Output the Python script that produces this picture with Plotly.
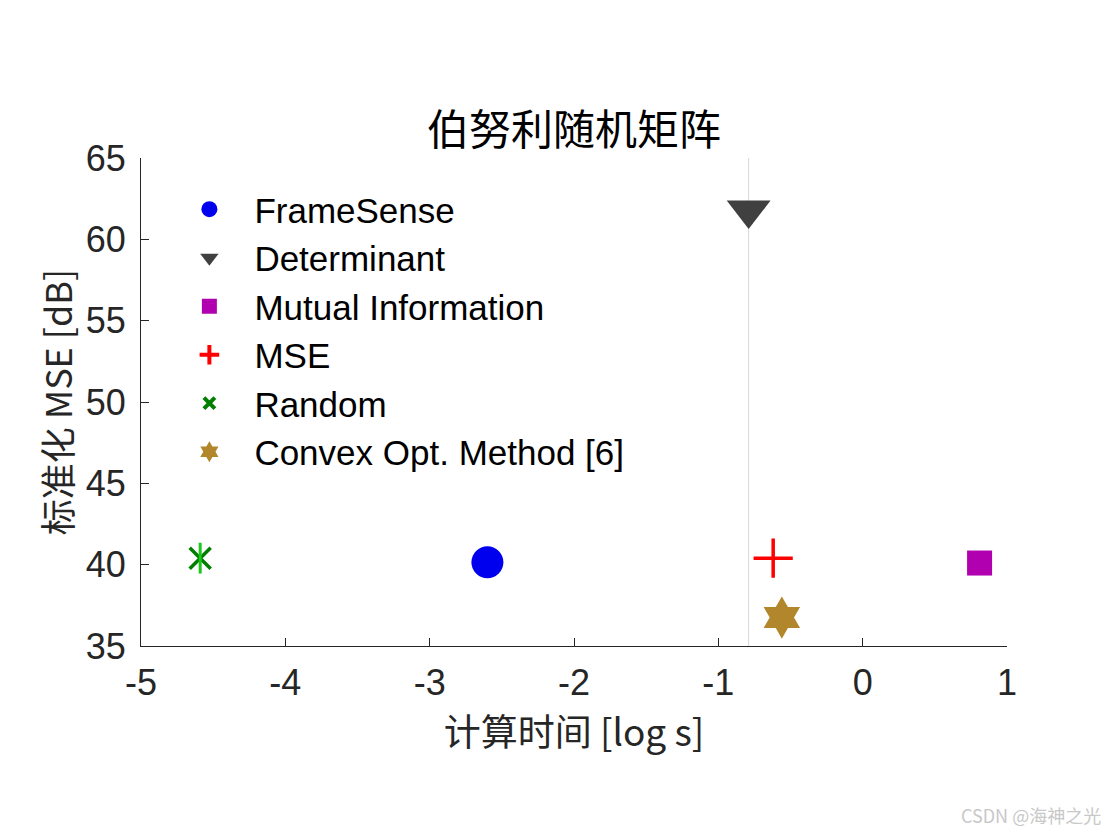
import plotly.graph_objects as go

# ---- data ----
methods = ["FrameSense", "Determinant", "Mutual Information", "MSE", "Random", "Convex Opt. Method [6]"]
x_time = [-2.60, -0.79, 0.81, -0.62, -4.59, -0.56]
y_mse = [40.15, 61.8, 40.1, 40.4, 40.4, 36.75]
symbols = ["circle", "triangle-down", "square", "cross-thin", "x-thin", "hexagram"]
colors = ["#0000ee", "#404040", "#b000b0", "#ff0000", "#007f00", "#b2862b"]
plot_sizes = [32, 38, 25, 28, 21, 32]
legend_sizes = [18, 24, 15, 14, 11, 20]
vline_x = -0.79
x_ticks = [-5, -4, -3, -2, -1, 0, 1]
x_tick_labels = ["-5", "-4", "-3", "-2", "-1", "0", "1"]
y_ticks = [35, 40, 45, 50, 55, 60, 65]
y_tick_labels = ["35", "40", "45", "50", "55", "60", "65"]

LAT = "Liberation Sans, Arial, Noto Sans CJK SC"
CJK = "Noto Sans CJK SC, Liberation Sans"
AX = "#262626"

fig = go.Figure()

# vertical reference line
fig.add_shape(type="line", x0=vline_x, x1=vline_x, y0=0, y1=1, xref="x", yref="paper",
              line=dict(color="#d9d9d9", width=1), layer="below")

for i, m in enumerate(methods):
    thin = symbols[i].endswith("thin")
    fig.add_trace(go.Scatter(
        x=[x_time[i]], y=[y_mse[i]], mode="markers", showlegend=False,
        marker=dict(symbol=symbols[i], size=plot_sizes[i], color=colors[i],
                    line=dict(color=colors[i], width=3.5 if thin else 0)),
        hoverinfo="skip"))
    fig.add_trace(go.Scatter(
        x=[None], y=[None], mode="markers", name=m,
        marker=dict(symbol=symbols[i], size=legend_sizes[i], color=colors[i],
                    line=dict(color=colors[i], width=4 if thin else 0))))

# light green vertical stroke overlapping the Random marker
ri = methods.index("Random")
fig.add_trace(go.Scatter(
    x=[x_time[ri]], y=[y_mse[ri]], mode="markers", showlegend=False,
    marker=dict(symbol="line-ns", size=22, line=dict(color="#19c819", width=3)),
    hoverinfo="skip"))

fig.update_layout(
    width=1109, height=834,
    paper_bgcolor="white", plot_bgcolor="white",
    margin=dict(l=141, r=102, t=158, b=188),
    font=dict(family=LAT, color=AX),
    title=dict(text="伯努利随机矩阵", x=0.5175, xanchor="center", y=1 - 130 / 834, yanchor="middle",
               yref="container", font=dict(family=CJK, size=42, color="black")),
    legend=dict(x=0.027, y=0.955, xanchor="left", yanchor="top",
                font=dict(family=LAT, size=35, color="black"),
                bgcolor="rgba(0,0,0,0)", itemwidth=80, tracegroupgap=0),
    showlegend=True,
)

fig.update_xaxes(range=[-5, 1], tickvals=x_ticks, ticktext=x_tick_labels,
                 showline=True, linecolor=AX, linewidth=1, ticks="inside", ticklen=8,
                 tickcolor=AX, tickfont=dict(size=36, color=AX, family=LAT), ticklabelstandoff=5,
                 showgrid=False, zeroline=False, mirror=False,
                 title=dict(text="计算时间 [log s]", font=dict(family=CJK, size=37, color=AX), standoff=14))
fig.update_yaxes(range=[35, 65], tickvals=y_ticks, ticktext=y_tick_labels,
                 showline=True, linecolor=AX, linewidth=1, ticks="inside", ticklen=8,
                 tickcolor=AX, tickfont=dict(size=36, color=AX, family=LAT), ticklabelstandoff=7,
                 showgrid=False, zeroline=False, mirror=False,
                 title=dict(text="标准化 MSE [dB]", font=dict(family=CJK, size=36, color=AX), standoff=2))

fig.add_annotation(text="CSDN @海神之光", xref="paper", yref="paper",
                   x=(1103 - 141) / 866, y=-(815 - 646) / 488, xanchor="right", yanchor="middle",
                   showarrow=False, font=dict(family=CJK, size=18, color="#c8c8c8"))

fig.write_html("out.html", config={"displayModeBar": False},
               post_script="document.body.style.margin='0';")
